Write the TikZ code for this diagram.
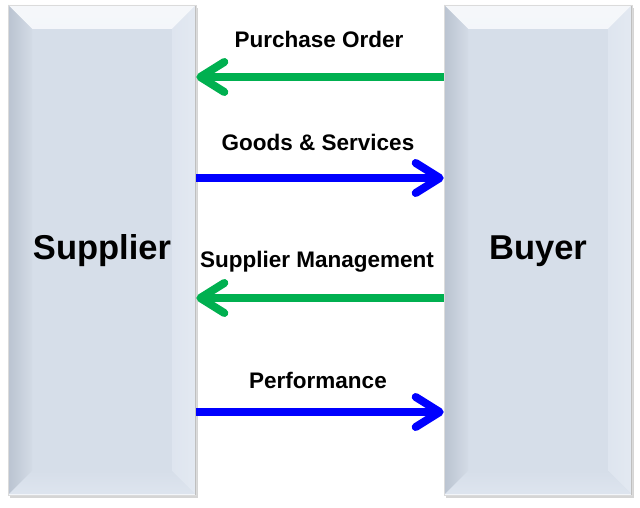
\documentclass[tikz,border=0pt]{standalone}
\usepackage{fontspec}
\setmainfont{Liberation Sans}
\usetikzlibrary{arrows.meta,shadows}

\definecolor{boxfill}{RGB}{214,222,233}
\definecolor{bevdark}{RGB}{186,195,208}
\definecolor{bevmid}{RGB}{211,219,230}
\definecolor{bevlight}{RGB}{222,229,239}
\definecolor{flowgreen}{RGB}{0,176,80}
\definecolor{flowblue}{RGB}{0,0,255}
\newcommand{\bv}{24pt}

\begin{document}
\begin{tikzpicture}[
  x=1pt, y=-1pt,
  party/.style={rectangle, fill=boxfill, draw=black!14, line width=0.6pt,
    minimum width=188pt, minimum height=490pt, inner sep=0pt,
    drop shadow={shadow xshift=1.5pt, shadow yshift=-3pt, opacity=0.3, fill=black!55},
    path picture={
      % bevel faces: top, left, right, bottom
      \shade[top color=white!70!bevlight, bottom color=bevlight]
        (path picture bounding box.north west) -- (path picture bounding box.north east)
        -- ([shift={(-\bv,-\bv)}]path picture bounding box.north east)
        -- ([shift={(\bv,-\bv)}]path picture bounding box.north west) -- cycle;
      \shade[left color=bevdark, right color=bevmid]
        (path picture bounding box.north west) -- ([shift={(\bv,-\bv)}]path picture bounding box.north west)
        -- ([shift={(\bv,\bv)}]path picture bounding box.south west)
        -- (path picture bounding box.south west) -- cycle;
      \shade[left color=bevlight, right color=bevlight!85!white]
        (path picture bounding box.north east) -- ([shift={(-\bv,-\bv)}]path picture bounding box.north east)
        -- ([shift={(-\bv,\bv)}]path picture bounding box.south east)
        -- (path picture bounding box.south east) -- cycle;
      \shade[top color=boxfill, bottom color=bevlight]
        (path picture bounding box.south west) -- ([shift={(\bv,\bv)}]path picture bounding box.south west)
        -- ([shift={(-\bv,\bv)}]path picture bounding box.south east)
        -- (path picture bounding box.south east) -- cycle;
      \draw[white!60!bevlight, line width=2.5pt] (path picture bounding box.south west) -- (path picture bounding box.south east);
      \draw[black!22, line width=1.5pt] (path picture bounding box.north west) -- (path picture bounding box.south west);
      \draw[black!25, line width=1.5pt] (path picture bounding box.north east) -- (path picture bounding box.south east);
    }},
  partyname/.style={font=\fontsize{34.5}{40}\selectfont\bfseries, anchor=base, inner sep=0pt},
  lbl/.style={font=\fontsize{22.5}{26}\selectfont\bfseries, anchor=base, inner sep=0pt},
  garr/.style={flowgreen, line width=8pt, -{Straight Barb[round, length=24pt, width=30pt]}},
  barr/.style={flowblue, line width=8pt, -{Straight Barb[round, length=24pt, width=30pt]}}
]
\useasboundingbox (0,0) rectangle (640,508);
% the two parties
\node[party] (supplier) at (102,250) {};
\node[party] (buyer) at (538,250) {};
\node[partyname] (suppliertxt) at (102,259) {Supplier};
\node[partyname] (buyertxt) at (538,259) {Buyer};
% flow rows
\coordinate (row1) at (0,77);
\coordinate (row2) at (0,178);
\coordinate (row3) at (0,298);
\coordinate (row4) at (0,412);
\node[lbl] (po) at (319,48) {Purchase Order};
\node[lbl] (gs) at (318,150) {Goods \& Services};
\node[lbl] (sm) at (317,267) {Supplier Management};
\node[lbl] (pf) at (318,388) {Performance};
\draw[garr] (buyer.west |- row1) -- (supplier.east |- row1);
\draw[barr] (supplier.east |- row2) -- (buyer.west |- row2);
\draw[garr] (buyer.west |- row3) -- (supplier.east |- row3);
\draw[barr] (supplier.east |- row4) -- (buyer.west |- row4);
\end{tikzpicture}
\end{document}
